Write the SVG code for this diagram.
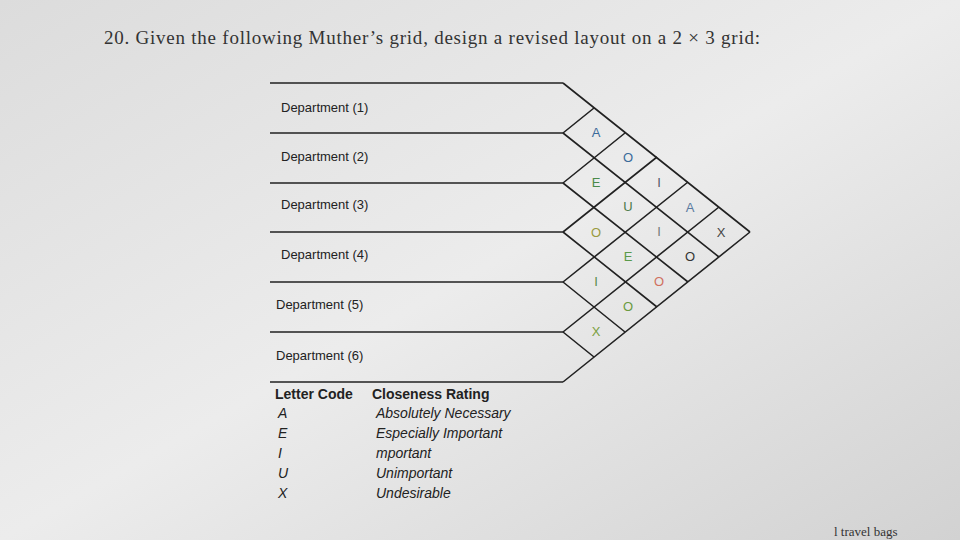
<svg xmlns="http://www.w3.org/2000/svg" width="960" height="540" viewBox="0 0 960 540">
<defs>
<linearGradient id="bg" x1="0" y1="0" x2="1" y2="1">
<stop offset="0" stop-color="#dcdcdc"/><stop offset="0.5" stop-color="#ececec"/><stop offset="1" stop-color="#d2d2d2"/>
</linearGradient>
<style>
.ln{stroke:#222;stroke-width:1.6;fill:none}
.dl{font-family:"Liberation Sans",Arial,sans-serif;font-size:13px;fill:#222}
.lt{font-family:"Liberation Sans",Arial,sans-serif;font-size:13px;text-anchor:middle}
.lg{font-family:"Liberation Sans",Arial,sans-serif;font-size:14px;fill:#222;font-style:italic}
.hd{font-family:"Liberation Sans",Arial,sans-serif;font-size:14px;fill:#222;font-weight:bold}
</style>
</defs>
<rect width="960" height="540" fill="url(#bg)"/>
<text x="104" y="44" font-family="Liberation Serif,serif" font-size="19" fill="#333" textLength="656" lengthAdjust="spacing">20.  Given the following Muther’s grid, design a revised layout on a 2 × 3 grid:</text>
<g id="connectors">
<path class="ln" d="M270 83H563M270 133H563M270 183H563M270 232H563M270 282H563M270 332H563M270 382H563"/>
<path class="ln" d="M563 83L750 232M563 133L719 257M563 183L688 282M563 232L657 307M563 282L625 332M563 332L594 357"/>
<path class="ln" d="M563 382L750 232M563 332L719 207M563 282L688 182M563 232L657 157M563 183L625 133M563 133L594 108"/>
</g>
<g id="dept1"><text class="dl" x="281" y="112">Department (1)</text></g>
<g id="dept2"><text class="dl" x="281" y="161">Department (2)</text></g>
<g id="dept3"><text class="dl" x="281" y="209">Department (3)</text></g>
<g id="dept4"><text class="dl" x="281" y="259">Department (4)</text></g>
<g id="dept5"><text class="dl" x="276" y="309">Department (5)</text></g>
<g id="dept6"><text class="dl" x="276" y="360">Department (6)</text></g>
<g id="ratings">
<text class="lt" x="596" y="137" fill="#3a6a9a">A</text>
<text class="lt" x="628" y="162" fill="#3a6a9a">O</text>
<text class="lt" x="659" y="187" fill="#556">I</text>
<text class="lt" x="690" y="212" fill="#5a7aa0">A</text>
<text class="lt" x="721" y="237" fill="#444">X</text>
<text class="lt" x="596" y="187" fill="#4a8a4a">E</text>
<text class="lt" x="628" y="211" fill="#4a7a4a">U</text>
<text class="lt" x="659" y="236" fill="#777">I</text>
<text class="lt" x="690" y="261" fill="#333">O</text>
<text class="lt" x="596" y="237" fill="#9a9a40">O</text>
<text class="lt" x="628" y="261" fill="#5a9a4a">E</text>
<text class="lt" x="659" y="286" fill="#d07060">O</text>
<text class="lt" x="596" y="286" fill="#5a8a4a">I</text>
<text class="lt" x="628" y="311" fill="#6a9a40">O</text>
<text class="lt" x="596" y="336" fill="#7aa040">X</text>
</g>
<g id="legend">
<text class="hd" x="275" y="399">Letter Code</text>
<text class="hd" x="372" y="399">Closeness Rating</text>
<text class="lg" x="278" y="418">A</text><text class="lg" x="376" y="418">Absolutely Necessary</text>
<text class="lg" x="278" y="438">E</text><text class="lg" x="376" y="438">Especially Important</text>
<text class="lg" x="278" y="458">I</text><text class="lg" x="376" y="458">mportant</text>
<text class="lg" x="278" y="478">U</text><text class="lg" x="376" y="478">Unimportant</text>
<text class="lg" x="278" y="498">X</text><text class="lg" x="376" y="498">Undesirable</text>
</g>
<text x="834" y="536" font-family="Liberation Serif,serif" font-size="13" fill="#333">l travel bags</text>
</svg>
